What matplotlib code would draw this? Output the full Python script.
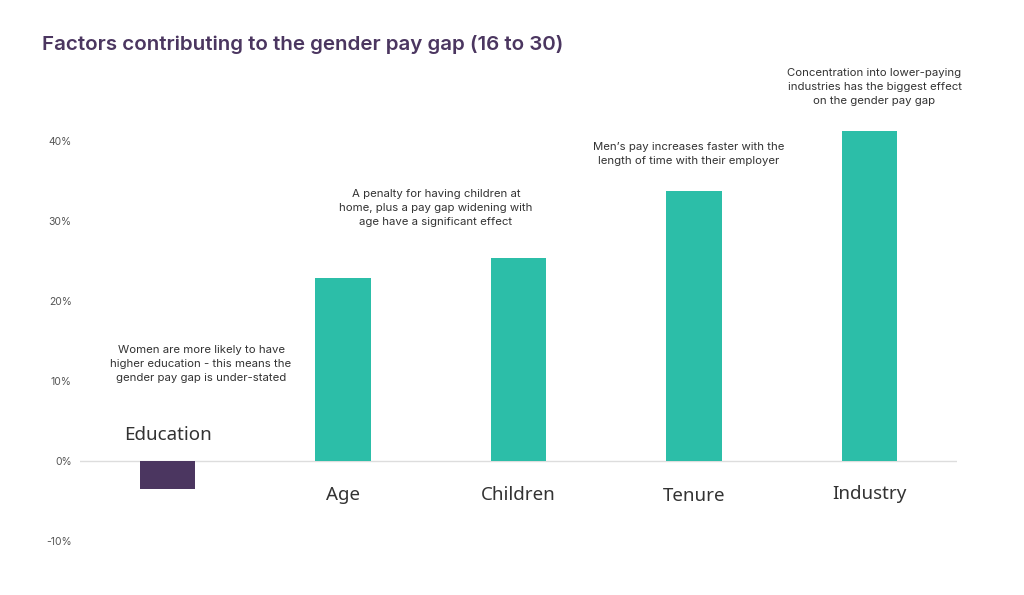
import matplotlib.pyplot as plt
import numpy as np

# data
kategorie = ["Education", "Age", "Children", "Tenure", "Industry"]
wartosci = [-3.5, 22.9, 25.4, 33.8, 41.2]
kolory = ["#4b3660", "#2cbea8", "#2cbea8", "#2cbea8", "#2cbea8"]
etykiety_y = [-10, 0, 10, 20, 30, 40]

# label positions (x, y) in data units
pozycje_etykiet = [(0, 3.3), (1, -4.2), (2, -4.2), (3, -4.4), (4, -4.1)]

opisy = [
    "Women are more likely to have\nhigher education - this means the\ngender pay gap is under-stated",
    "A penalty for having children at\nhome, plus a pay gap widening with\nage have a significant effect",
    "Men\u2019s pay increases faster with the\nlength of time with their employer",
    "Concentration into lower-paying\nindustries has the biggest effect\non the gender pay gap",
]
pozycje_opisow = [(0.19, 12.1), (1.53, 31.6), (2.97, 38.4), (4.03, 46.8)]

plt.rcParams['font.family'] = ['Inter', 'DejaVu Sans']

fig = plt.figure(figsize=(10.24, 5.95), dpi=100)
ax = fig.add_axes([80 / 1024, 1 - 541 / 595, (957 - 80) / 1024, (541 - 101) / 595])

x = np.arange(len(kategorie))
ax.bar(x, wartosci, width=0.315, color=kolory, zorder=2)
ax.axhline(0, color="#dddddd", lw=1, zorder=1)

ax.set_xlim(-0.5, 4.5)
ax.set_ylim(-10, 45)
ax.set_yticks(etykiety_y)
ax.set_yticklabels([f"{v}%" for v in etykiety_y], fontsize=7.5, color="#555555")
ax.tick_params(axis="y", length=0, pad=6)
ax.set_xticks([])
for s in ax.spines.values():
    s.set_visible(False)

for k, (px, py) in zip(kategorie, pozycje_etykiet):
    ax.text(px, py, k, ha="center", va="center", fontsize=13.5, color="#333333",
            family=['Noto Sans', 'DejaVu Sans'])

for t, (px, py) in zip(opisy, pozycje_opisow):
    ax.text(px, py, t, ha="center", va="center", fontsize=8.2, color="#333333",
            linespacing=1.5, clip_on=False)

fig.text(42 / 1024, 1 - 45 / 595, "Factors contributing to the gender pay gap (16 to 30)",
         fontsize=14.8, fontweight="semibold", color="#4b3660", va="center", ha="left")

plt.savefig("out.png", dpi=100)
